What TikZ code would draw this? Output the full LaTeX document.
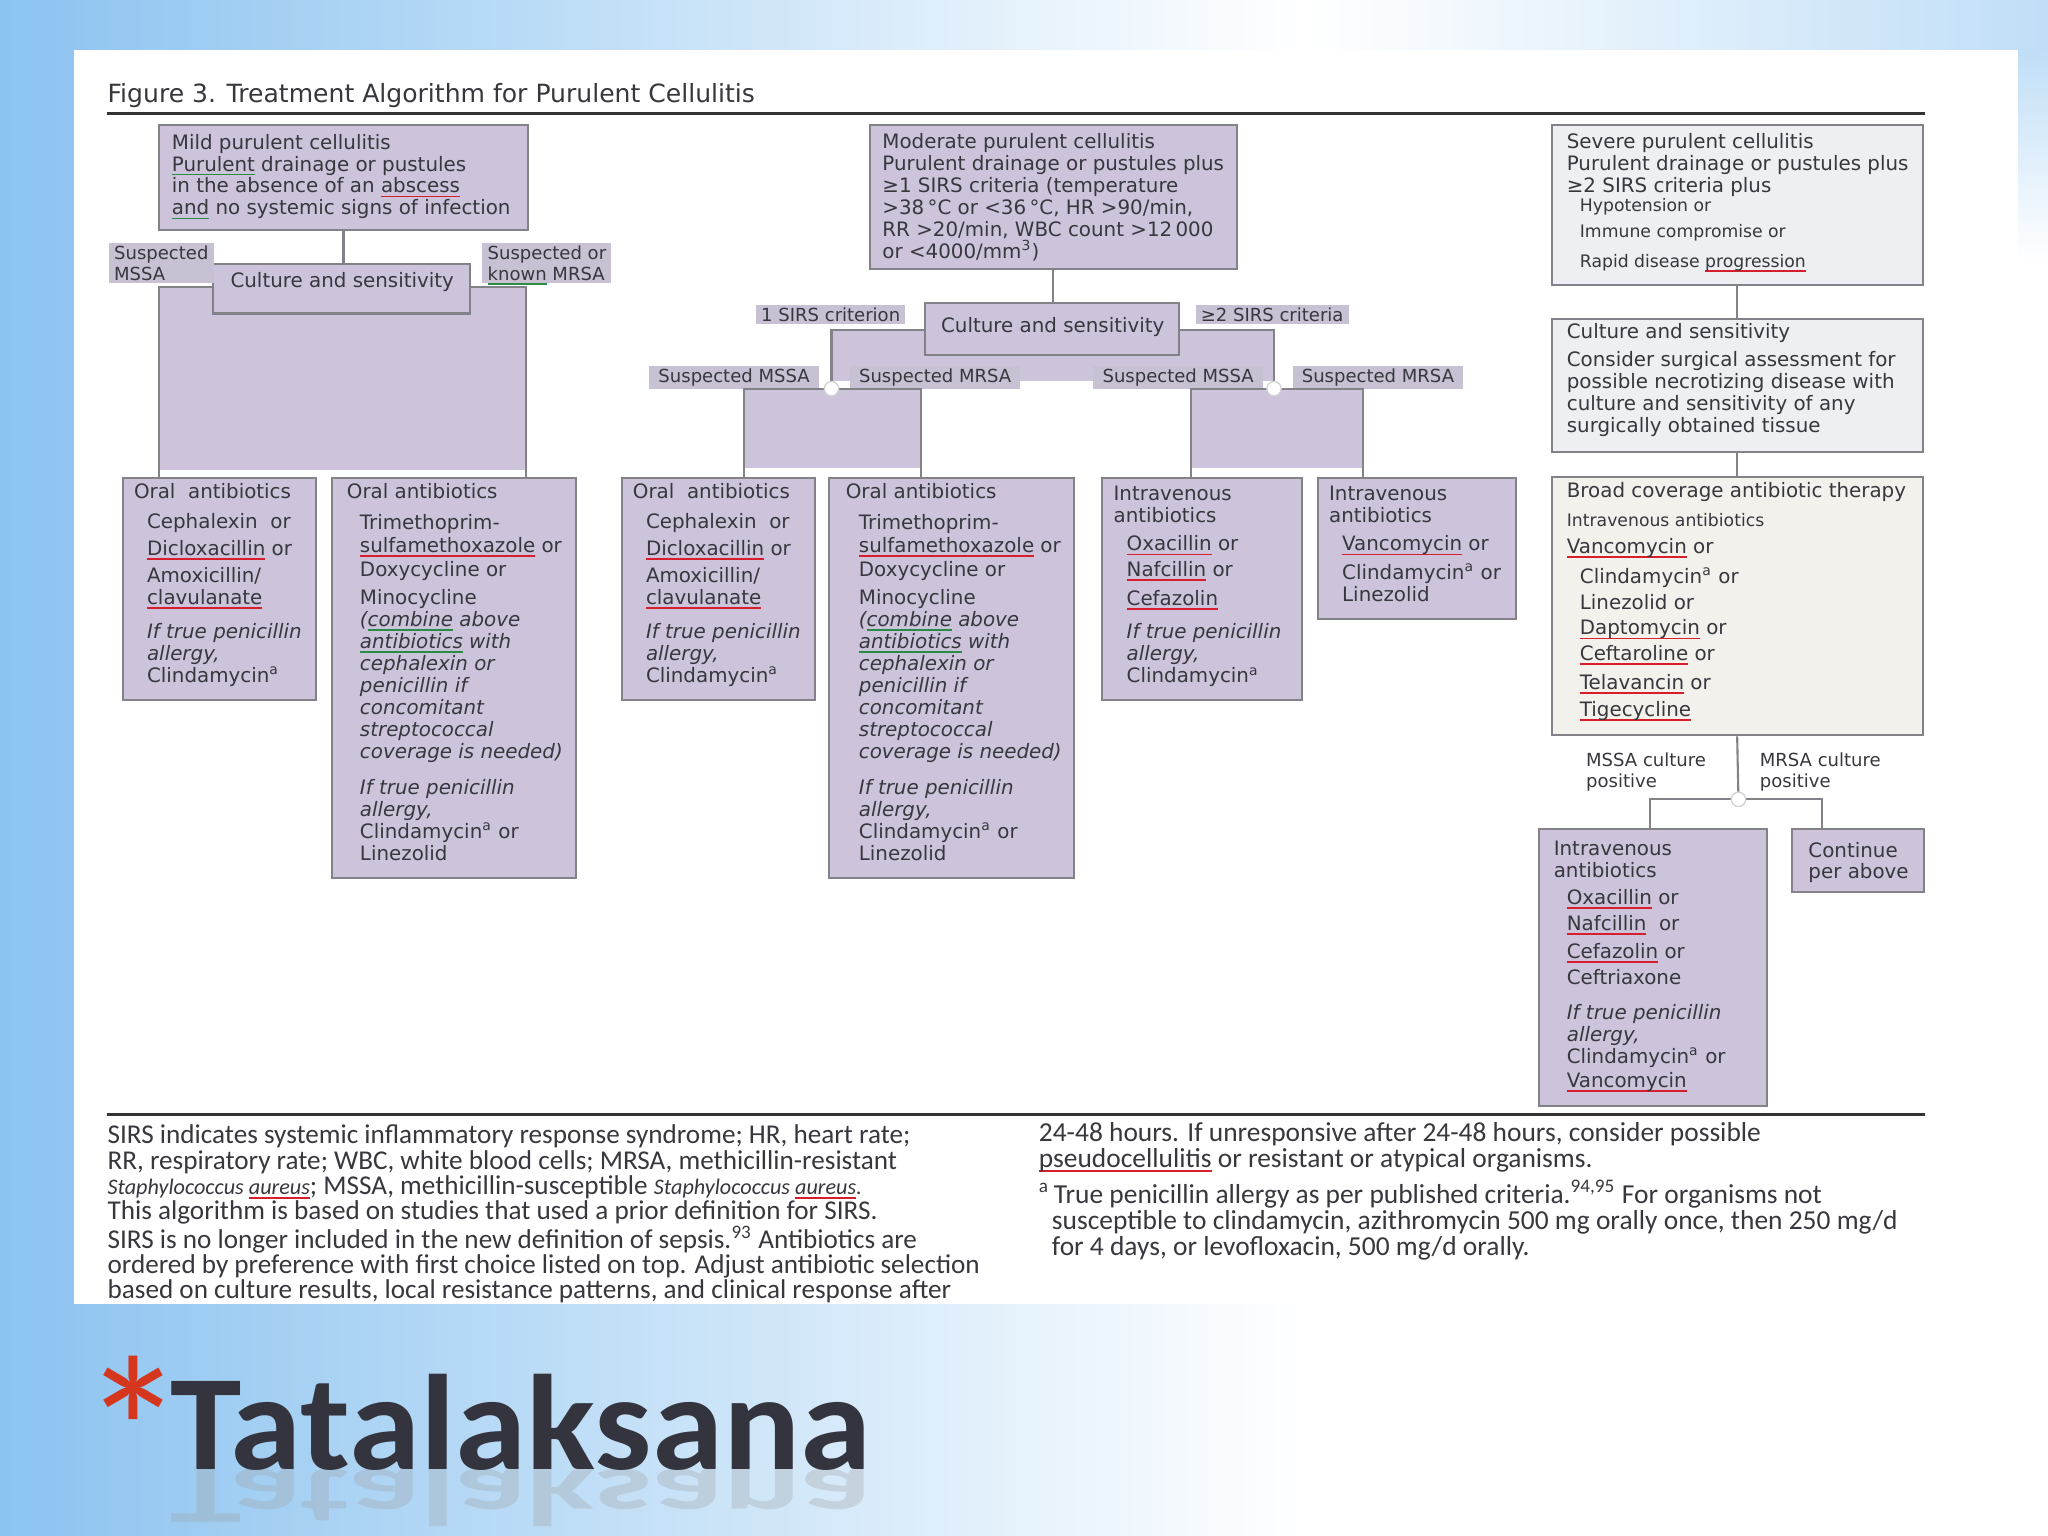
\documentclass[tikz,border=0pt]{standalone}
\usepackage{fontspec}
\setmainfont{DejaVu Sans}
\newfontfamily\carl{Carlito}
\usetikzlibrary{fit}
\definecolor{lav}{RGB}{205,196,219}
\definecolor{labfill}{RGB}{199,193,211}
\definecolor{bordc}{RGB}{130,130,136}
\definecolor{txtc}{RGB}{55,55,62}
\definecolor{sevfill}{RGB}{237,239,243}
\definecolor{brfill}{RGB}{243,241,235}
\definecolor{bgblue}{RGB}{140,195,240}
\definecolor{sqred}{RGB}{215,30,45}
\definecolor{sqgreen}{RGB}{40,140,70}
\definecolor{titlegray}{RGB}{52,52,62}
\definecolor{astred}{RGB}{212,55,30}
\newcommand\bxf{\fontsize{7.6}{8.4}\selectfont}
\newcommand\smf{\fontsize{6.6}{8.4}\selectfont}
\newcommand\labf{\fontsize{6.9}{7.9}\selectfont}
\newcommand\ind{\hspace*{5pt}}
\newsavebox\ulbox
\newcommand\ulcol[2]{\sbox\ulbox{#2}\rlap{\color{#1}\raisebox{-1.7pt}[0pt][0pt]{\rule{\wd\ulbox}{0.7pt}}}\usebox\ulbox}
\newcommand\rw[1]{\ulcol{sqred}{#1}}
\newcommand\gw[1]{\ulcol{sqgreen}{#1}}
\newcommand\oralMSSA{Oral\ \ antibiotics\\[3pt]\ind Cephalexin\ \ or\\[2pt]\ind\rw{Dicloxacillin} or\\[2pt]\ind Amoxicillin/\\\ind\rw{clavulanate}\\[4.5pt]\ind\textit{If true penicillin}\\\ind\textit{allergy,}\\\ind Clindamycin\textsuperscript{a}}
\newcommand\oralMRSA{Oral antibiotics\\[3.5pt]\ind Trimethoprim-\\[0.5pt]\ind\rw{sulfamethoxazole} or\\[0.5pt]\ind Doxycycline or\\[2.5pt]\ind Minocycline\\\ind\textit{(\gw{combine} above}\\\ind\textit{\gw{antibiotics} with}\\\ind\textit{cephalexin or}\\\ind\textit{penicillin if}\\\ind\textit{concomitant}\\\ind\textit{streptococcal}\\\ind\textit{coverage is needed)}\\[5.5pt]\ind\textit{If true penicillin}\\\ind\textit{allergy,}\\\ind Clindamycin\textsuperscript{a} or\\\ind Linezolid}
\begin{document}
\begin{tikzpicture}[x=0.5pt,y=-0.5pt,
  lbox/.style={draw=bordc, line width=0.8pt, fill=lav, inner sep=0pt},
  sbox/.style={lbox, fill=sevfill},
  bbox/.style={lbox, fill=brfill},
  regn/.style={fill=lav, draw=none, inner sep=0pt},
  txt/.style={inner sep=0pt, align=left, text=txtc, font=\bxf, anchor=north west},
  lab/.style={fill=labfill, inner xsep=2pt, inner ysep=1pt, text=txtc, font=\labf, align=left},
  conn/.style={draw=bordc, line width=0.8pt},
  junc/.style={circle, draw=gray!35, fill=white, inner sep=0pt, minimum size=5.5pt, line width=0.5pt},
  foot/.style={inner sep=0pt, align=left, text=txtc, anchor=north west},
]
\useasboundingbox (0,0) rectangle (1568,1176);
\fill[white] (0,0) rectangle (1568,1176);
\shade[left color=bgblue, middle color=bgblue!35, right color=white] (0,0) rectangle (1000,1176);
\shade[left color=white, right color=bgblue!55] (1000,0) rectangle (1568,38);
\shade[top color=bgblue!55, bottom color=white] (1545,38) rectangle (1568,200);
\fill[white] (57,38) rectangle (1545,998);

% header
\node[anchor=west, inner sep=0pt, font=\fontsize{9.6}{11}\selectfont, text=txtc] (title) at (82,73) {Figure 3. Treatment Algorithm for Purulent Cellulitis};
\draw[line width=1.1pt, black!80] (82,87) -- (1474,87);
\draw[line width=1.1pt, black!80] (82,853) -- (1474,853);

% ---------- mild column ----------
\node[lbox, fit={(122,96)(404,176)}] (mild) {};
\node[txt] (mildt) at ([shift={(10,7)}]mild.north west) {Mild purulent cellulitis\\\gw{Purulent} drainage or pustules\\in the absence of an \rw{abscess}\\\gw{and} no systemic signs of infection};
\node[regn, fit={(122,220)(402,360)}] (r1) {};
\node[lbox, fit={(163,202)(360,240)}] (cs1) {};
\node[font=\bxf, text=txtc, inner sep=0pt] (cs1t) at (262,216) {Culture and sensitivity};
\node[lab, anchor=north west] (lm1) at (83,186) {Suspected\\MSSA};
\node[lab, anchor=north west] (lm2) at (369,186) {Suspected or\\\gw{known} MRSA};
\node[lbox, fit={(94,366)(242,536)}] (A) {};
\node[txt] (At) at ([shift={(9,4.5)}]A.north west) {\oralMSSA};
\node[lbox, fit={(254,366)(441,672)}] (B) {};
\node[txt] (Bt) at ([shift={(12,4.5)}]B.north west) {\oralMRSA};

% ---------- moderate column ----------
\node[lbox, fit={(666,96)(947,206)}] (mod) {};
\node[txt] (modt) at ([shift={(10,6.5)}]mod.north west) {Moderate purulent cellulitis\\Purulent drainage or pustules plus\\≥1 SIRS criteria (temperature\\>38\,°C or <36\,°C, HR >90/min,\\RR >20/min, WBC count >12\,000\\or <4000/mm\textsuperscript{3})};
\node[regn, fit={(637,253)(975,292)}] (r2) {};
\node[regn, fit={(570,298)(705,358)}] (r2a) {};
\node[regn, fit={(912,298)(1043,358)}] (r2b) {};
\node[lbox, fit={(708,232)(903,272)}] (cs2) {};
\node[font=\bxf, text=txtc, inner sep=0pt] (cs2t) at (806,250) {Culture and sensitivity};
\node[lab] (l21) at (636,241) {1 SIRS criterion};
\node[lab] (l22) at (974,241) {≥2 SIRS criteria};
\node[lab, inner xsep=3.5pt] (s1) at (562,289) {Suspected MSSA};
\node[lab, inner xsep=3.5pt] (s2) at (716,289) {Suspected MRSA};
\node[lab, inner xsep=3.5pt] (s3) at (902,289) {Suspected MSSA};
\node[lab, inner xsep=3.5pt] (s4) at (1055,289) {Suspected MRSA};
\node[lbox, fit={(476,366)(624,536)}] (C) {};
\node[txt] (Ct) at ([shift={(9,4.5)}]C.north west) {\oralMSSA};
\node[lbox, fit={(635,366)(822,672)}] (D) {};
\node[txt] (Dt) at ([shift={(13,4.5)}]D.north west) {\oralMRSA};
\node[lbox, fit={(844,366)(997,536)}] (E) {};
\node[txt] (Et) at ([shift={(9,6.5)}]E.north west) {Intravenous\\antibiotics\\[2.5pt]\ind\rw{Oxacillin} or\\[1.5pt]\ind\rw{Nafcillin} or\\[2.5pt]\ind\rw{Cefazolin}\\[4.5pt]\ind\textit{If true penicillin}\\\ind\textit{allergy,}\\\ind Clindamycin\textsuperscript{a}};
\node[lbox, fit={(1009,366)(1161,474)}] (F) {};
\node[txt] (Ft) at ([shift={(9,6.5)}]F.north west) {Intravenous\\antibiotics\\[2.5pt]\ind\rw{Vancomycin} or\\[2.5pt]\ind Clindamycin\textsuperscript{a} or\\\ind Linezolid};

% ---------- severe column ----------
\node[sbox, fit={(1188,96)(1472,218)}] (sev) {};
\node[txt] (sevt) at ([shift={(12,6.5)}]sev.north west) {Severe purulent cellulitis\\Purulent drainage or pustules plus\\≥2 SIRS criteria plus\\[-1pt]{\smf\ind Hypotension or}\\[1.5pt]{\smf\ind Immune compromise or}\\[3pt]{\smf\ind Rapid disease \rw{progression}}};
\node[sbox, fit={(1188,244)(1472,346)}] (cr) {};
\node[txt] (crt) at ([shift={(12,4)}]cr.north west) {Culture and sensitivity\\[2.5pt]Consider surgical assessment for\\possible necrotizing disease with\\culture and sensitivity of any\\surgically obtained tissue};
\node[bbox, fit={(1188,365)(1472,563)}] (br) {};
\node[txt] (brt) at ([shift={(12,5)}]br.north west) {Broad coverage antibiotic therapy\\[2.5pt]{\smf Intravenous antibiotics}\\[2pt]\rw{Vancomycin} or\\[3pt]\ind Clindamycin\textsuperscript{a} or\\[1.5pt]\ind Linezolid or\\[1.5pt]\ind\rw{Daptomycin} or\\[1.5pt]\ind\rw{Ceftaroline} or\\[2.5pt]\ind\rw{Telavancin} or\\[2pt]\ind\rw{Tigecycline}};
\node[anchor=north west, inner sep=0pt, align=left, font=\labf, text=txtc] (mssa) at (1214,576) {MSSA culture\\positive};
\node[anchor=north west, inner sep=0pt, align=left, font=\labf, text=txtc] (mrsa) at (1347,576) {MRSA culture\\positive};
\node[lbox, fit={(1178,635)(1353,847)}] (G) {};
\node[txt] (Gt) at ([shift={(12,9)}]G.north west) {Intravenous\\antibiotics\\[2pt]\ind\rw{Oxacillin} or\\[1.5pt]\ind\rw{Nafcillin}\ \ or\\[2.5pt]\ind\rw{Cefazolin} or\\[1.5pt]\ind Ceftriaxone\\[5pt]\ind\textit{If true penicillin}\\\ind\textit{allergy,}\\\ind Clindamycin\textsuperscript{a} or\\[1pt]\ind\rw{Vancomycin}};
\node[lbox, fit={(1372,635)(1473,683)}] (H) {};
\node[txt] (Ht) at ([shift={(13,10)}]H.north west) {Continue\\per above};

% ---------- connectors ----------
\draw[conn] (mild.south) -- (mild.south |- cs1.north);
\draw[conn] (cs1.west |- r1.north) -- (r1.north west) -- (A.north -| r1.west);
\draw[conn] (cs1.east |- r1.north) -- (r1.north east) -- (B.north -| r1.east);

\draw[conn] (mod.south) -- (mod.south |- cs2.north);
\draw[conn] (cs2.west |- r2.north) -- (r2.north west) -- (r2a.north -| r2.west);
\draw[conn] (cs2.east |- r2.north) -- (r2.north east) -- (r2b.north -| r2.east);
\draw[conn] (C.north -| r2a.west) -- (r2a.north west) -- (r2a.north east) -- (D.north -| r2a.east);
\draw[conn] (E.north -| r2b.west) -- (r2b.north west) -- (r2b.north east) -- (F.north -| r2b.east);
\node[junc] (j1) at (r2a.north -| r2.west) {};
\node[junc] (j2) at (r2b.north -| r2.east) {};

\draw[conn] (sev.south) -- (cr.north);
\draw[conn] (cr.south) -- (br.north);
\coordinate (sp) at (1331,612);
\coordinate (spl) at (1263,612);
\coordinate (spr) at (1395,612);
\draw[conn] (br.south) -- (sp);
\draw[conn] (G.north -| spl) -- (spl) -- (spr) -- (H.north -| spr);
\node[junc] (j3) at (sp) {};

% ---------- footnotes ----------
\node[foot, font=\carl\fontsize{10.4}{9.6}\selectfont] (fl) at (82,861) {SIRS indicates systemic inflammatory response syndrome; HR, heart rate;\\
RR, respiratory rate; WBC, white blood cells; MRSA, methicillin-resistant\\
{\itshape\fontsize{8.5}{9}\selectfont Staphylococcus \rw{aureus}}; MSSA, methicillin-susceptible {\itshape\fontsize{8.5}{9}\selectfont Staphylococcus \rw{aureus}.}\\
This algorithm is based on studies that used a prior definition for SIRS.\\
SIRS is no longer included in the new definition of sepsis.\textsuperscript{93} Antibiotics are\\
ordered by preference with first choice listed on top. Adjust antibiotic selection\\
based on culture results, local resistance patterns, and clinical response after};
\node[foot, font=\carl\fontsize{10.5}{10}\selectfont] (fr) at (795,859) {24-48 hours. If unresponsive after 24-48 hours, consider possible\\
\rw{pseudocellulitis} or resistant or atypical organisms.\\[2pt]
\textsuperscript{a}\,True penicillin allergy as per published criteria.\textsuperscript{94,95} For organisms not\\
\hspace*{5pt}susceptible to clindamycin, azithromycin 500 mg orally once, then 250 mg/d\\
\hspace*{5pt}for 4 days, or levofloxacin, 500 mg/d orally.};

% ---------- slide title ----------
\node[anchor=base west, inner sep=0pt, font=\carl\bfseries\fontsize{52}{52}\selectfont, text=gray!75, opacity=0.3] (ttr) at (130,1125) {\scalebox{1.06}[-0.6]{Tatalaksana}};
\node[anchor=base west, inner sep=0pt, font=\carl\bfseries\fontsize{52}{52}\selectfont, text=titlegray] (tt) at (130,1125) {\scalebox{1.06}[1]{Tatalaksana}};
\node[anchor=north west, inner sep=0pt, font=\carl\fontsize{80}{80}\selectfont, text=astred] (ast) at (62,1038) {*};
\end{tikzpicture}
\end{document}
